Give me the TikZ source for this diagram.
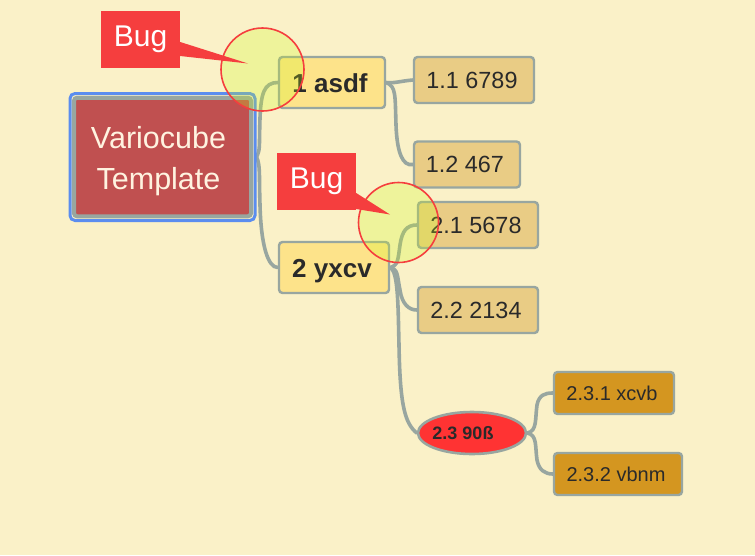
\documentclass[tikz,border=0pt]{standalone}
\usepackage{fontspec}
\setmainfont{Liberation Sans}
\usetikzlibrary{shapes.geometric}
\pgfdeclarelayer{linklayer}
\pgfsetlayers{linklayer,main}
\definecolor{pagebg}{HTML}{FAF1C8}
\definecolor{linkgrey}{HTML}{98A6A0}
\definecolor{inkdark}{HTML}{2A2A2A}
\definecolor{lvlone}{HTML}{FDE38A}
\definecolor{lvltwo}{HTML}{E9CC85}
\definecolor{lvlthree}{HTML}{D49620}
\definecolor{rootred}{HTML}{C05050}
\definecolor{roottext}{HTML}{FFF3E0}
\definecolor{ellred}{HTML}{FF3333}
\definecolor{bugred}{HTML}{F53E3E}
\definecolor{selblue}{HTML}{5B8DEF}
\definecolor{halo}{HTML}{CEF918}
\tikzset{
  link/.style={draw=linkgrey,line width=3.6pt,line cap=round},
  boxbase/.style={draw=linkgrey,line width=2.4pt,rounded corners=3.5pt,inner sep=0pt,text=inkdark},
  topicone/.style={boxbase,fill=lvlone,text height=19pt,text depth=0pt,execute at begin node={\hspace*{-4pt}},font=\fontsize{26}{30}\selectfont\bfseries},
  topictwo/.style={boxbase,fill=lvltwo,text height=16.5pt,text depth=0pt,execute at begin node={\hspace*{-4pt}},font=\fontsize{23.4}{27}\selectfont},
  topicthree/.style={boxbase,fill=lvlthree,execute at begin node={\hspace*{-4pt}},font=\fontsize{20}{24}\selectfont},
  ovaltopic/.style={ellipse,draw=linkgrey,line width=2.6pt,fill=ellred,inner sep=0pt,text=inkdark,execute at begin node={\hspace*{-18pt}},font=\fontsize{18}{22}\selectfont\bfseries},
  rootbox/.style={boxbase,line width=4pt,rounded corners=3pt,align=center,fill=rootred,text=roottext,font=\fontsize{30.5}{41}\selectfont},
  rootsel/.style={draw=selblue,line width=3pt,rounded corners=5pt,inner sep=0pt},
  bugbox/.style={fill=bugred,inner sep=0pt,text=white,font=\fontsize{30}{34}\selectfont},
  bughalo/.style={circle,draw=bugred,line width=1.6pt,fill=halo,fill opacity=.25,draw opacity=1,inner sep=0pt},
}
\begin{document}
\begin{tikzpicture}[x=1pt,y=-1pt]
\useasboundingbox (0,0) rectangle (755,555);
% nodes
\node[rootsel,minimum width=185pt,minimum height=127pt] (sel) at (162.5,157) {};
\node[rootbox,minimum width=177pt,minimum height=118.5pt] (root) at (162.5,157) {\rule{0pt}{30pt}\hspace*{-8pt}Variocube\\\hspace*{-8pt}Template};
\node[topicone,minimum width=106pt,minimum height=51pt] (n1) at (332,82.5) {1 asdf};
\node[topicone,minimum width=110pt,minimum height=51pt] (n2) at (334,267.5) {2 yxcv};
\node[topictwo,minimum width=120pt,minimum height=46pt] (n11) at (474,80) {1.1 6789};
\node[topictwo,minimum width=106pt,minimum height=46pt] (n12) at (467,164.5) {1.2 467};
\node[topictwo,minimum width=120pt,minimum height=46pt] (n21) at (478,225) {2.1 5678};
\node[topictwo,minimum width=120pt,minimum height=46pt] (n22) at (478,310) {2.2 2134};
\node[ovaltopic,minimum width=108pt,minimum height=42pt] (n23) at (472,433) {2.3 90ß};
\node[topicthree,minimum width=120pt,minimum height=42pt] (n231) at (614,393) {2.3.1 xcvb};
\node[topicthree,minimum width=128pt,minimum height=42pt] (n232) at (618,474) {2.3.2 vbnm};
% connectors, behind the nodes
\begin{pgfonlayer}{linklayer}
\fill[pagebg] (0,0) rectangle (755,555);
\draw[link] (sel.east) .. controls +(4,-8) and +(-1,30) .. (260,118) .. controls +(1,-24) and +(-14,0) .. (n1.west);
\draw[link] (sel.east) .. controls +(4,8) and +(-1,-30) .. (260,205) .. controls +(1,40) and +(-10,0) .. (n2.west);
\draw[link] (n1.east) .. controls +(8,1) and +(-12,1) .. (n11.west);
\draw[link] (n1.east) .. controls +(10,4) and +(-1,-30) .. (396,125) .. controls +(1,28) and +(-10,2) .. (n12.west);
\draw[link] (n2.east) .. controls +(8,-2) and +(-2,14) .. (400,245) .. controls +(2,-14) and +(-10,0) .. (n21.west);
\draw[link] (n2.east) .. controls +(8,2) and +(-3,-15) .. (400,290) .. controls +(2,14) and +(-8,0) .. (n22.west);
\draw[link] (n2.east) .. controls +(8,4) and +(-1,-40) .. (399,345) .. controls +(1,60) and +(-12,-10) .. (n23.west);
\draw[link] (n23.east) .. controls +(10,-2) and +(-2,14) .. (537,405) .. controls +(2,-10) and +(-8,0) .. (n231.west);
\draw[link] (n23.east) .. controls +(10,2) and +(-2,-14) .. (537,460) .. controls +(2,10) and +(-8,0) .. (n232.west);
\end{pgfonlayer}
% bug markers
\node[bughalo,minimum size=83pt] (h1) at (262.5,69.5) {};
\node[bughalo,minimum size=80pt] (h2) at (398.5,222.5) {};
\node[bugbox,minimum width=79pt,minimum height=57pt] (b1) at (140.5,39.5) {Bug};
\node[bugbox,minimum width=79pt,minimum height=57pt] (b2) at (316.5,181.5) {Bug};
\coordinate (t1) at (248,63.5);
\coordinate (t2) at (390,214.5);
\fill[bugred] (b1.east |- 0,42) -- (t1) -- (b1.east |- 0,56) -- cycle;
\fill[bugred] (b2.east |- 0,193) -- (t2) -- (b2.east |- 0,209) -- cycle;
\end{tikzpicture}
\end{document}
